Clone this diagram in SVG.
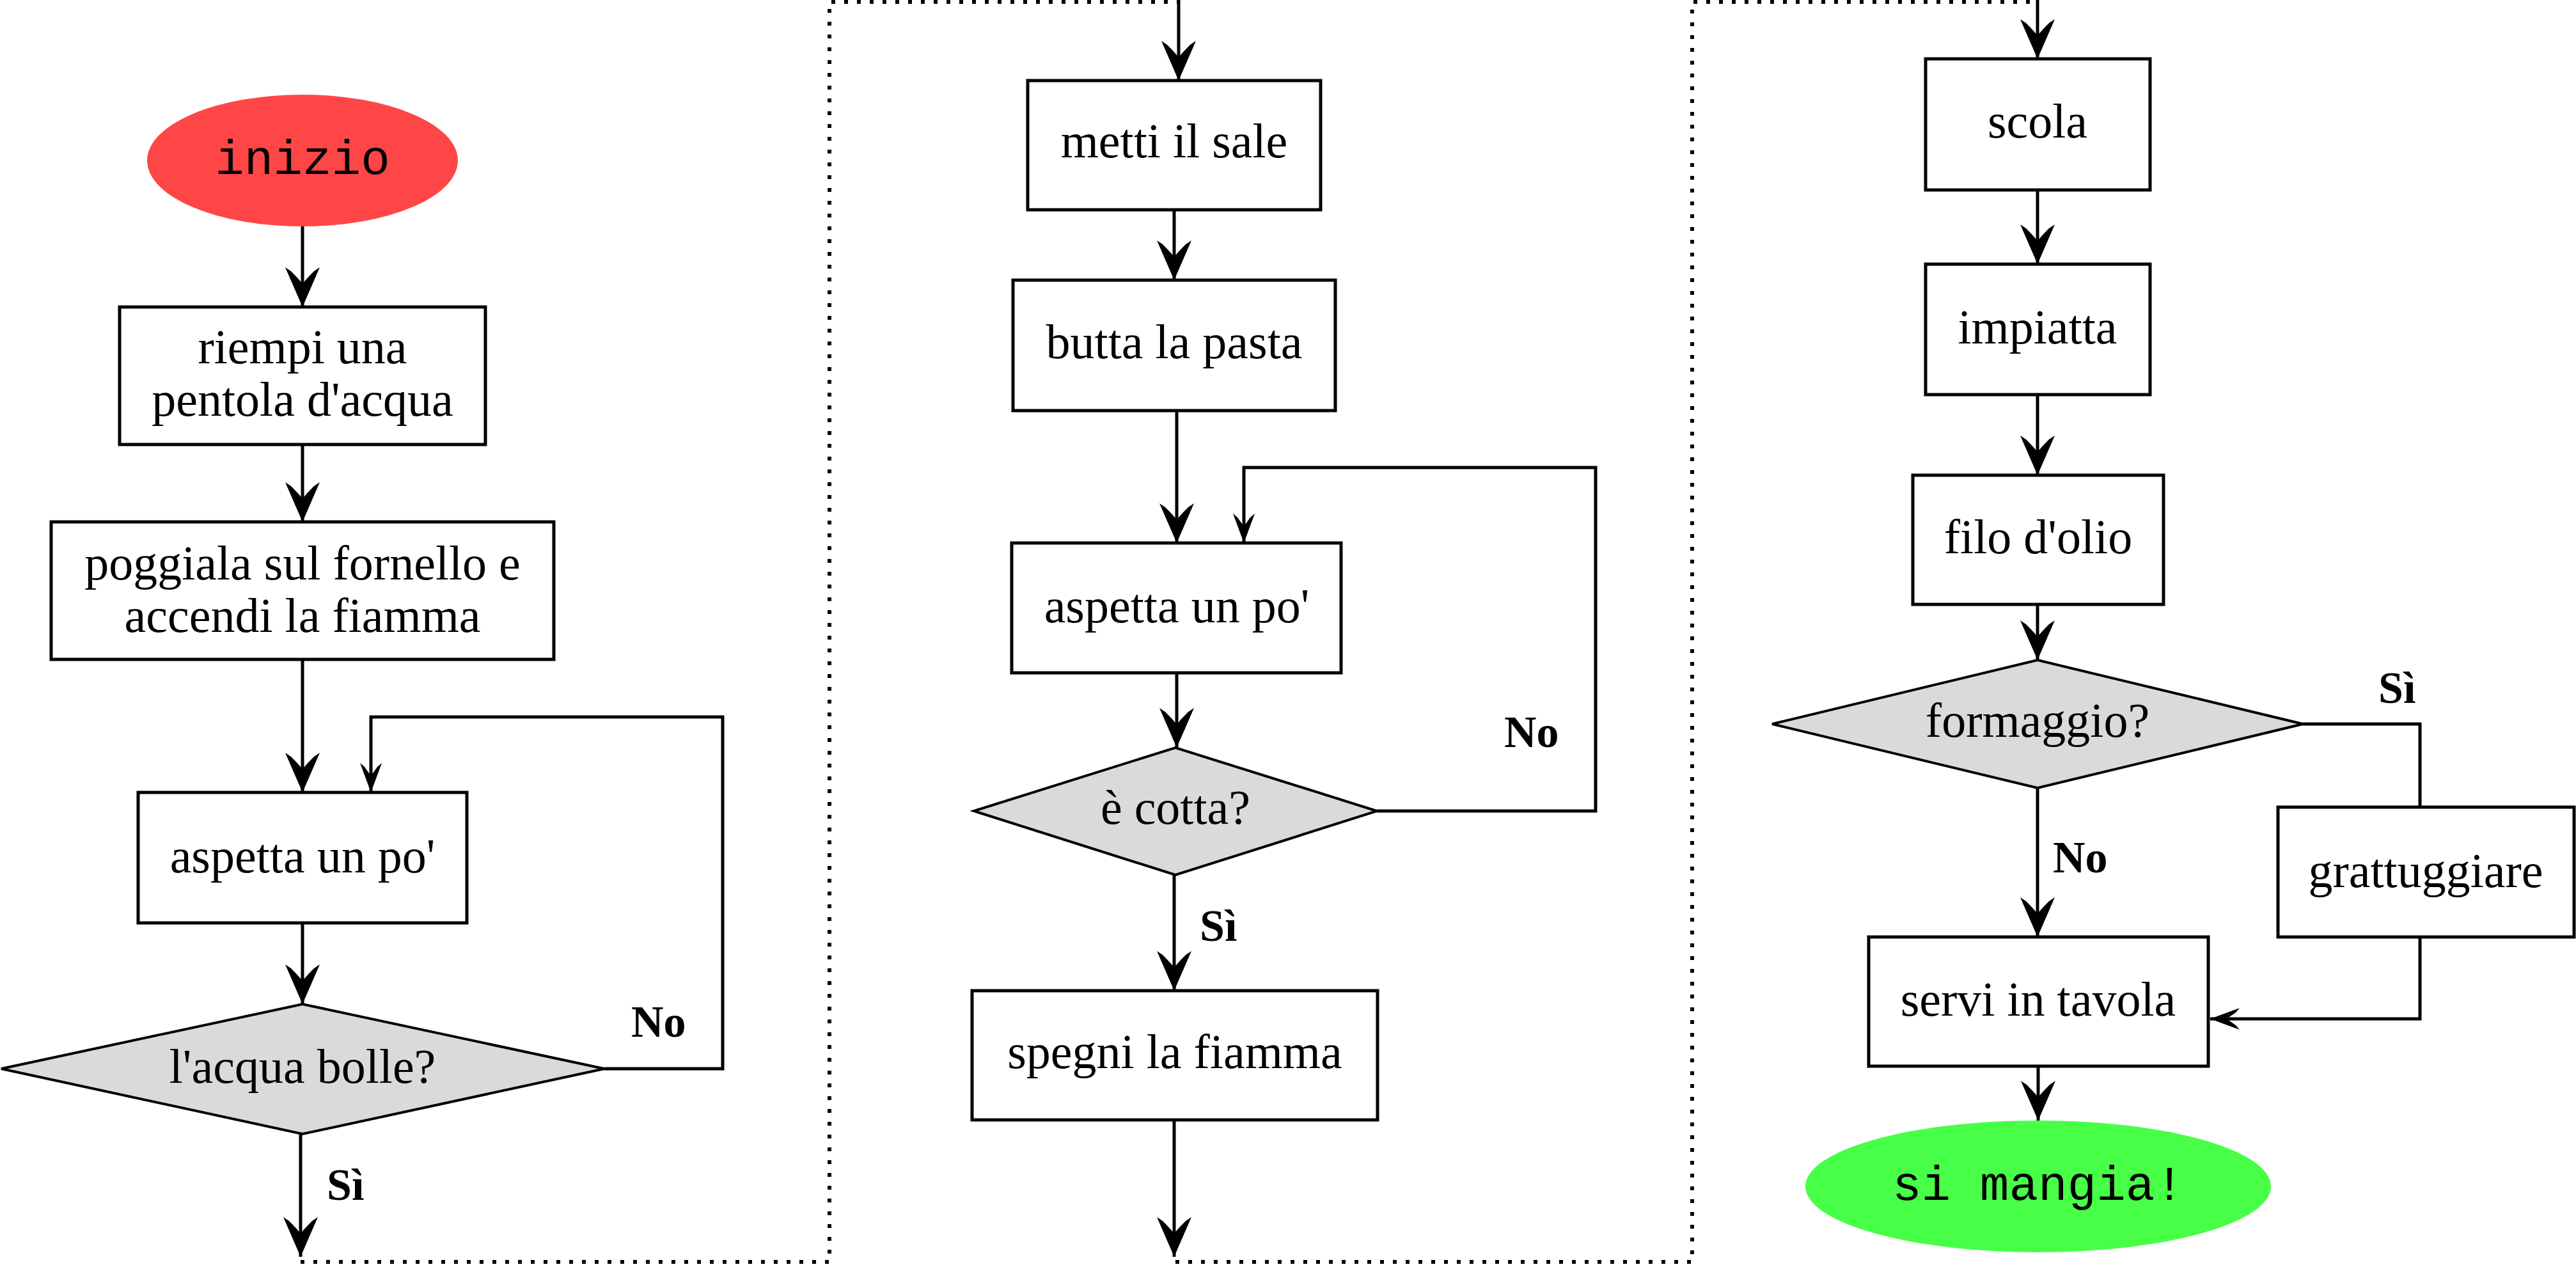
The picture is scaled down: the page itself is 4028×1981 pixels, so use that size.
<svg xmlns="http://www.w3.org/2000/svg" width="4028" height="1981" viewBox="0 0 4028 1981">
<style>
.b{fill:#fff;stroke:#000;stroke-width:5}
.d{fill:#dadada;stroke:#000;stroke-width:4}
.t{font-family:"Liberation Serif",serif;font-size:76px;text-anchor:middle;fill:#000}
.m{font-family:"Liberation Mono",monospace;font-size:76px;text-anchor:middle;fill:#000}
.l{font-family:"Liberation Serif",serif;font-size:70px;font-weight:bold;fill:#000}
.c{fill:none;stroke:#000;stroke-width:5}
.s{fill:none;stroke:#000;stroke-width:5;marker-end:url(#ah)}
.sl{fill:none;stroke:#000;stroke-width:5;marker-end:url(#as)}
.dot{fill:none;stroke:#000;stroke-width:6;stroke-dasharray:6 14}
</style>
<defs>
<marker id="ah" markerUnits="userSpaceOnUse" viewBox="-64 -30 66 60" refX="0" refY="0" markerWidth="66" markerHeight="60" orient="auto">
<path d="M0,0 L-62,-27 L-56,-18 Q-42,-4 -36,0 Q-42,4 -56,18 L-62,27 Z" fill="#000"/>
</marker>
<marker id="as" markerUnits="userSpaceOnUse" viewBox="-50 -20 52 40" refX="0" refY="0" markerWidth="52" markerHeight="40" orient="auto">
<path d="M0,0 L-46,-17 L-40,-10 Q-30,-3 -26,0 Q-30,3 -40,10 L-46,17 Z" fill="#000"/>
</marker>
</defs>
<g id="connectors">
<path class="dot" d="M470,1973 H1297 V3 H1843"/>
<path class="dot" d="M1838,1973 H2646 V3 H3186"/>
<path class="s" d="M473,354 V480"/>
<path class="s" d="M473,695 V816"/>
<path class="s" d="M473,1031 V1239"/>
<path class="s" d="M473,1443 V1570"/>
<path class="sl" d="M945,1671 H1130 V1121 H580 V1239"/>
<path class="s" d="M470,1773 V1965"/>
<path class="s" d="M1843,0 V126"/>
<path class="s" d="M1836,328 V438"/>
<path class="s" d="M1840,642 V849"/>
<path class="s" d="M1840,1052 V1169"/>
<path class="sl" d="M2153,1268 H2495 V731 H1945 V849"/>
<path class="s" d="M1836,1368 V1549"/>
<path class="s" d="M1836,1751 V1965"/>
<path class="s" d="M3186,0 V92"/>
<path class="s" d="M3186,297 V413"/>
<path class="s" d="M3186,617 V743"/>
<path class="s" d="M3186,945 V1032"/>
<path class="s" d="M3186,1232 V1465"/>
<path class="c" d="M3601,1132 H3784 V1262"/>
<path class="sl" d="M3784,1465 V1593 H3456"/>
<path class="s" d="M3187,1667 V1752"/>
<text class="l" x="987" y="1621">No</text>
<text class="l" x="511" y="1876">Sì</text>
<text class="l" x="2352" y="1168">No</text>
<text class="l" x="1876" y="1471">Sì</text>
<text class="l" x="3719" y="1099">Sì</text>
<text class="l" x="3210" y="1364">No</text>
</g>
<g id="inizio"><ellipse cx="473" cy="251" rx="243" ry="103" fill="#ff4646"/><text class="m" x="473" y="272">inizio</text></g>
<g id="riempi"><rect class="b" x="187" y="480" width="572" height="215"/><text class="t" x="473" y="568">riempi una</text><text class="t" x="473" y="650">pentola d'acqua</text></g>
<g id="poggiala"><rect class="b" x="80" y="816" width="786" height="215"/><text class="t" x="473" y="906">poggiala sul fornello e</text><text class="t" x="473" y="988">accendi la fiamma</text></g>
<g id="aspetta1"><rect class="b" x="216" y="1239" width="514" height="204"/><text class="t" x="473" y="1364">aspetta un po'</text></g>
<g id="bolle"><polygon class="d" points="2,1671 473,1570 945,1671 473,1773"/><text class="t" x="473" y="1693">l'acqua bolle?</text></g>
<g id="sale"><rect class="b" x="1607" y="126" width="458" height="202"/><text class="t" x="1836" y="246">metti il sale</text></g>
<g id="butta"><rect class="b" x="1584" y="438" width="504" height="204"/><text class="t" x="1836" y="560">butta la pasta</text></g>
<g id="aspetta2"><rect class="b" x="1582" y="849" width="515" height="203"/><text class="t" x="1840" y="973">aspetta un po'</text></g>
<g id="cotta"><polygon class="d" points="1523,1268 1838,1169 2153,1268 1838,1368"/><text class="t" x="1838" y="1288">è cotta?</text></g>
<g id="spegni"><rect class="b" x="1520" y="1549" width="634" height="202"/><text class="t" x="1837" y="1670">spegni la fiamma</text></g>
<g id="scola"><rect class="b" x="3011" y="92" width="351" height="205"/><text class="t" x="3186" y="215">scola</text></g>
<g id="impiatta"><rect class="b" x="3011" y="413" width="351" height="204"/><text class="t" x="3186" y="537">impiatta</text></g>
<g id="filo"><rect class="b" x="2991" y="743" width="392" height="202"/><text class="t" x="3187" y="865">filo d'olio</text></g>
<g id="formaggio"><polygon class="d" points="2771,1132 3186,1032 3601,1132 3186,1232"/><text class="t" x="3186" y="1152">formaggio?</text></g>
<g id="grattuggiare"><rect class="b" x="3562" y="1262" width="463" height="203"/><text class="t" x="3793" y="1387">grattuggiare</text></g>
<g id="servi"><rect class="b" x="2922" y="1465" width="531" height="202"/><text class="t" x="3187" y="1588">servi in tavola</text></g>
<g id="mangia"><ellipse cx="3187" cy="1855" rx="364" ry="103" fill="#46ff46"/><text class="m" x="3187" y="1876">si mangia!</text></g>
</svg>
